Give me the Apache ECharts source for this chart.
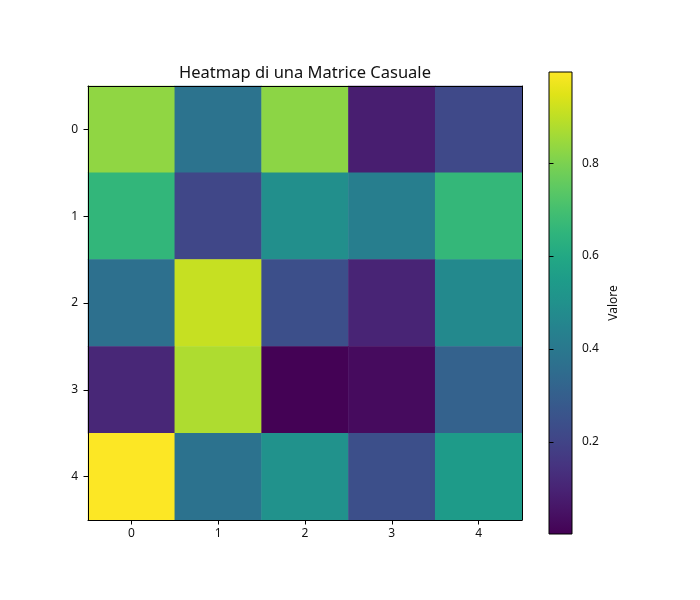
<!DOCTYPE html>
<html>
<head>
<meta charset="utf-8">
<script src="https://cdn.jsdelivr.net/npm/echarts@6/dist/echarts.min.js"></script>
<style>
html,body{margin:0;padding:0;background:#fff;}
#chart{width:700px;height:600px;}
</style>
</head>
<body>
<div id="chart"></div>
<script>
// ---- data ----
var xCategories = ['0', '1', '2', '3', '4'];
var yCategories = ['0', '1', '2', '3', '4'];
var row0 = [0.83, 0.38, 0.825, 0.085, 0.22];
var row1 = [0.655, 0.21, 0.49, 0.425, 0.66];
var row2 = [0.365, 0.91, 0.24, 0.10, 0.47];
var row3 = [0.11, 0.875, 0.004, 0.03, 0.31];
var row4 = [0.995, 0.375, 0.505, 0.24, 0.545];
var rows = [row0, row1, row2, row3, row4];
var colorbarTicks = [0.2, 0.4, 0.6, 0.8];
var title = 'Heatmap di una Matrice Casuale';
var colorbarLabel = 'Valore';

var viridis = ['#440154','#471365','#482475','#463480','#414487','#3b528b','#355f8d',
  '#2f6c8e','#2a788e','#25848e','#21918c','#1e9c89','#22a884','#2fb47c','#44bf70',
  '#5ec962','#7ad151','#9bd93c','#bddf26','#dfe318','#fde725'];

var data = [];
rows.forEach(function (r, yi) {
  r.forEach(function (v, xi) {
    data.push([xi, yi, v]);
  });
});

var font = 'Noto Sans';
var txt = '#111';

var chart = echarts.init(document.getElementById('chart'));
chart.setOption({
  animation: false,
  backgroundColor: '#fff',
  textStyle: { fontFamily: font },
  title: {
    text: title,
    left: 300, textAlign: 'center', top: 60,
    textStyle: { fontFamily: font, fontSize: 16.5, fontWeight: 'normal', color: txt }
  },
  grid: [
    { left: 88, top: 86, width: 434, height: 434 },
    { left: 549, top: 72, width: 23, height: 462, show: true,
      borderColor: '#000', borderWidth: 1,
      backgroundColor: { type: 'linear', x: 0, y: 1, x2: 0, y2: 0, colorStops: viridis.map(function (c, i) { return { offset: i / (viridis.length - 1), color: c }; }) } }
  ],
  xAxis: [
    { type: 'category', data: xCategories, gridIndex: 0, position: 'bottom', z: 10,
      axisLine: { show: true, lineStyle: { color: '#000', width: 1 } },
      axisTick: { show: true, alignWithLabel: true, length: 4.5, lineStyle: { color: '#000' } },
      axisLabel: { color: txt, fontSize: 12, margin: 8, fontFamily: font },
      splitLine: { show: false } },
    { type: 'category', data: xCategories, gridIndex: 0, position: 'top', z: 10,
      axisLine: { show: true, lineStyle: { color: '#000', width: 1 } },
      axisTick: { show: false }, axisLabel: { show: false }, splitLine: { show: false } },
    { type: 'value', gridIndex: 1, show: false, min: 0, max: 1 }
  ],
  yAxis: [
    { type: 'category', data: yCategories, gridIndex: 0, inverse: true, position: 'left', z: 10,
      axisLine: { show: true, lineStyle: { color: '#000', width: 1 } },
      axisTick: { show: true, alignWithLabel: true, length: 4.5, lineStyle: { color: '#000' } },
      axisLabel: { color: txt, fontSize: 12, margin: 10, fontFamily: font },
      splitLine: { show: false } },
    { type: 'category', data: yCategories, gridIndex: 0, inverse: true, position: 'right', z: 10,
      axisLine: { show: true, lineStyle: { color: '#000', width: 1 } },
      axisTick: { show: false }, axisLabel: { show: false }, splitLine: { show: false } },
    { type: 'value', gridIndex: 1, position: 'right', min: 0.002, max: 0.996,
      name: colorbarLabel, nameLocation: 'middle', nameRotate: 90, nameGap: 36,
      nameTextStyle: { color: txt, fontSize: 12, fontFamily: font },
      axisLine: { show: false },
      axisTick: { show: true, length: 4.5, customValues: colorbarTicks, lineStyle: { color: '#000' } },
      axisLabel: { show: true, color: txt, fontSize: 12, margin: 10, fontFamily: font, customValues: colorbarTicks,
        formatter: function (v) { return v.toFixed(1); } },
      splitLine: { show: false } }
  ],
  visualMap: {
    show: false, type: 'continuous', dimension: 2, seriesIndex: 0,
    min: 0.002, max: 0.996,
    inRange: { color: viridis }
  },
  series: [
    { type: 'heatmap', xAxisIndex: 0, yAxisIndex: 0, data: data,
      itemStyle: { borderWidth: 0 }, emphasis: { disabled: true } }
  ]
});
</script>
</body>
</html>
